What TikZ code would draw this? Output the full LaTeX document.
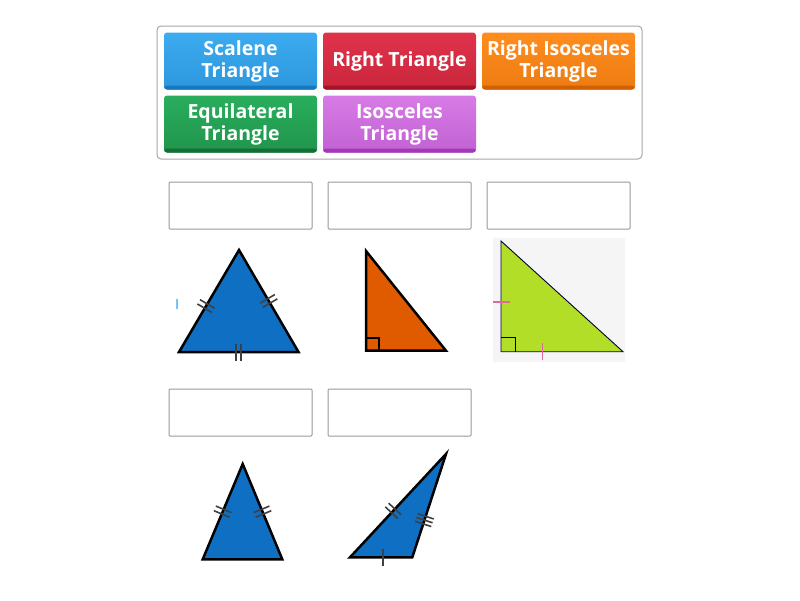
\documentclass[tikz,border=0pt]{standalone}
\usepackage{fontspec}
\setmainfont{Open Sans}
\usetikzlibrary{calc}

\definecolor{scaleneTop}{HTML}{3CABF0}
\definecolor{scaleneBot}{HTML}{1F93E0}
\definecolor{scaleneDark}{HTML}{1679C0}
\definecolor{rightTop}{HTML}{E0334A}
\definecolor{rightBot}{HTML}{CF1D33}
\definecolor{rightDark}{HTML}{A81226}
\definecolor{risoTop}{HTML}{FF8D1E}
\definecolor{risoBot}{HTML}{F57A05}
\definecolor{risoDark}{HTML}{D06000}
\definecolor{equiTop}{HTML}{29AE5C}
\definecolor{equiBot}{HTML}{1C8A45}
\definecolor{equiDark}{HTML}{146E36}
\definecolor{isoTop}{HTML}{D77BE6}
\definecolor{isoBot}{HTML}{C24DD4}
\definecolor{isoDark}{HTML}{A23AB6}
\definecolor{triBlue}{HTML}{0F6FC2}
\definecolor{triOrange}{HTML}{E05A00}
\definecolor{triGreen}{HTML}{B2DE28}
\definecolor{tickPink}{HTML}{E0679F}

\tikzset{
  btn/.style 2 args={rounded corners=3pt, minimum width=153pt, minimum height=57pt,
    top color=#1, bottom color=#1!60!#2, text=white, align=center, inner sep=0pt,
    font=\fontsize{19.5}{22}\selectfont\bfseries,
    path picture={\fill[#2] (path picture bounding box.south west) rectangle
      ([yshift=4pt]path picture bounding box.south east);}},
  ansbox/.style={draw=gray!80, line width=1pt, rounded corners=1pt,
    minimum width=143pt, minimum height=47pt, inner sep=0pt},
  triedge/.style={line width=2.5pt, black},
  tickmark/.style={line width=1.6pt, black!75},
  pinktick/.style={line width=1.5pt, tickPink}
}

% ticks across the side #2--#3 at fraction #4, shifted along by the list #5
\newcommand{\sideticks}[5][tickmark]{%
  \coordinate (tk) at ($(#2)!#4!(#3)$);
  \foreach \s in {#5} {
    \coordinate (tks) at ($(tk)!\s!(#3)$);
    \draw[#1] ($(tks)!8.5pt!90:(#3)$) -- ($(tks)!8.5pt!-90:(#3)$);
  }}

\begin{document}
\begin{tikzpicture}[x=1pt, y=-1pt]
    \useasboundingbox (0,0) rectangle (800,600);
    \fill[white] (0,0) rectangle (800,600);

    % Word bank
    \draw[gray!70, line width=1pt, rounded corners=4pt] (157,26) rectangle (642,159);
    \node[btn={scaleneTop}{scaleneDark}] (scalene) at (240.5,61) {Scalene\\Triangle};
    \node[btn={rightTop}{rightDark}] (right) at (399.5,61) {Right Triangle};
    \node[btn={risoTop}{risoDark}] (riso) at (558.5,61) {Right Isosceles\\Triangle};
    \node[btn={equiTop}{equiDark}] (equi) at (240.5,124) {Equilateral\\Triangle};
    \node[btn={isoTop}{isoDark}] (iso) at (399.5,124) {Isosceles\\Triangle};

    % Answer boxes
    \foreach \x/\name in {240.5/boxa, 399.5/boxb, 558.5/boxc}
        \node[ansbox] (\name) at (\x,205.5) {};
    \foreach \x/\name in {240.5/boxd, 399.5/boxe}
        \node[ansbox] (\name) at (\x,412.5) {};

    % Equilateral triangle
    \coordinate (eqA) at (179,352);
    \coordinate (eqB) at (298.5,352);
    \coordinate (eqC) at (239,250);
    \fill[scaleneTop!70] (176,299) rectangle (178,309);
    \filldraw[triedge, fill=triBlue] (eqA) -- (eqB) -- (eqC) -- cycle;
    \sideticks{eqA}{eqC}{0.45}{-2.5pt,2.5pt}
    \sideticks{eqB}{eqC}{0.5}{-2.5pt,2.5pt}
    \sideticks{eqA}{eqB}{0.5}{-2.5pt,2.5pt}

    % Right triangle
    \coordinate (rtA) at (366,350.7);
    \coordinate (rtB) at (446,350.7);
    \coordinate (rtC) at (366,251);
    \filldraw[triedge, fill=triOrange] (rtA) -- (rtB) -- (rtC) -- cycle;
    \draw[line width=1.8pt] (366,337.7) -| (379,350.7);

    % Right isosceles triangle
    \fill[black!4] (493,238) rectangle (625,362);
    \coordinate (riA) at (501,351.7);
    \coordinate (riB) at (623,351.7);
    \coordinate (riC) at (501,241);
    \fill[triGreen] (riA) -- (riB) -- (riC) -- cycle;
    \draw[line width=0.9pt, black!80!blue] (riA) -- (riB) -- (riC) -- cycle;
    \draw[line width=0.8pt] (501,337.7) -| (515,351.7);
    \sideticks[pinktick]{riA}{riC}{0.45}{0pt}
    \sideticks[pinktick]{riA}{riB}{0.34}{0pt}

    % Isosceles triangle
    \coordinate (isA) at (202.7,559.3);
    \coordinate (isB) at (282.3,559.3);
    \coordinate (isC) at (242.7,464);
    \filldraw[triedge, fill=triBlue] (isA) -- (isB) -- (isC) -- cycle;
    \sideticks{isA}{isC}{0.5}{-2.5pt,2.5pt}
    \sideticks{isB}{isC}{0.5}{-2.5pt,2.5pt}

    % Scalene triangle
    \coordinate (scA) at (350,557.3);
    \coordinate (scB) at (412.3,557.3);
    \coordinate (scC) at (446,454);
    \filldraw[triedge, fill=triBlue] (scA) -- (scB) -- (scC) -- cycle;
    \sideticks{scA}{scC}{0.45}{-2.5pt,2.5pt}
    \sideticks{scB}{scC}{0.36}{-4pt,0pt,4pt}
    \sideticks{scA}{scB}{0.53}{0pt}
\end{tikzpicture}
\end{document}
